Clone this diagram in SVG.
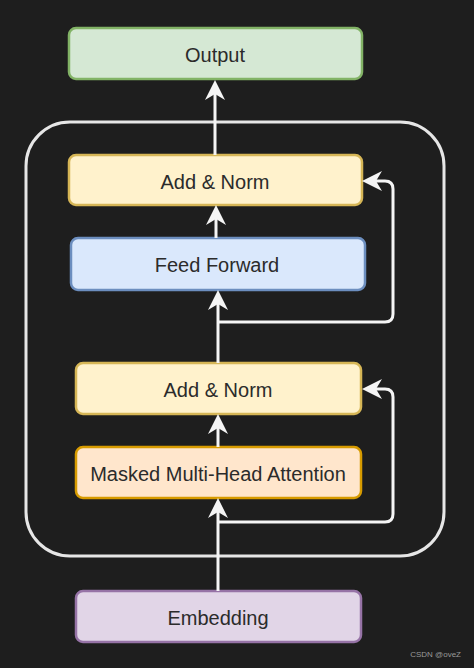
<svg xmlns="http://www.w3.org/2000/svg" width="474" height="668" viewBox="0 0 474 668">
<style>
.box{stroke-width:2.5}
.lbl{font-family:"Liberation Sans",Arial,sans-serif;font-size:20px;fill:#2b2b2b;text-anchor:middle;dominant-baseline:central}
.edge{fill:none;stroke:#f5f5f5;stroke-width:3}
</style>
<defs>
<marker id="arr" viewBox="0 0 20 20" refX="14" refY="10" markerWidth="20" markerHeight="20" markerUnits="userSpaceOnUse" orient="auto">
<path d="M0,0 L20,10 L0,20 L6,10 Z" fill="#f5f5f5"/>
</marker>
</defs>
<rect width="474" height="668" fill="#1e1e1e"/>
<rect x="26" y="122" width="418" height="434" rx="44" fill="none" stroke="#e6e6e6" stroke-width="3"/>
<g id="output"><rect class="box" x="69" y="28" width="293" height="51" rx="7" fill="#d5e8d4" stroke="#82b366"/><text class="lbl" x="215" y="55">Output</text></g>
<g id="addnorm1"><rect class="box" x="69" y="155" width="293" height="50" rx="7" fill="#fff2cc" stroke="#d6b656"/><text class="lbl" x="215" y="182">Add &amp; Norm</text></g>
<g id="feedforward"><rect class="box" x="71" y="238" width="294" height="52" rx="7" fill="#dae8fc" stroke="#6c8ebf"/><text class="lbl" x="217" y="265">Feed Forward</text></g>
<g id="addnorm2"><rect class="box" x="76" y="363" width="285" height="51" rx="7" fill="#fff2cc" stroke="#d6b656"/><text class="lbl" x="218" y="390">Add &amp; Norm</text></g>
<g id="mha"><rect class="box" x="76" y="447" width="285" height="51" rx="7" fill="#ffe6cc" stroke="#d79b00"/><text class="lbl" x="218" y="474">Masked Multi-Head Attention</text></g>
<g id="embedding"><rect class="box" x="76" y="591" width="285" height="51" rx="7" fill="#e1d5e7" stroke="#9673a6"/><text class="lbl" x="218" y="618">Embedding</text></g>
<g id="connectors">
<path class="edge" d="M218,591 V504" marker-end="url(#arr)"/>
<path class="edge" d="M218,447 V420" marker-end="url(#arr)"/>
<path class="edge" d="M218,363 V296" marker-end="url(#arr)"/>
<path class="edge" d="M216,238 V211" marker-end="url(#arr)"/>
<path class="edge" d="M215,155 V86" marker-end="url(#arr)"/>
<path class="edge" d="M218,522 H385 Q393,522 393,514 V397 Q393,389 385,389 H368" marker-end="url(#arr)"/>
<path class="edge" d="M218,322 H385 Q393,322 393,314 V189 Q393,181 385,181 H368" marker-end="url(#arr)"/>
</g>
<text x="461" y="657" font-family="Liberation Sans,Arial,sans-serif" font-size="8px" fill="#9a9a9a" text-anchor="end">CSDN @oveZ</text>
</svg>
